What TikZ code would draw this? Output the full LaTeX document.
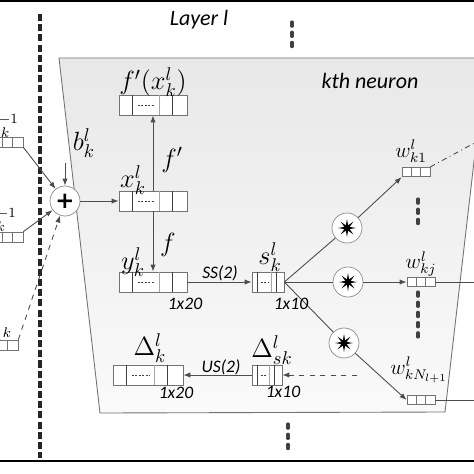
\RequirePackage{fix-cm}
\documentclass[tikz,border=0pt]{standalone}
\usepackage{fontspec}
\newfontfamily\labelfont{Carlito}
\newfontfamily\signfont{DejaVu Sans}
\usetikzlibrary{calc,shapes.geometric,arrows.meta}
\tikzset{
  cellbox/.style={draw=black!55, fill=white, inner sep=0pt, minimum width=1.36cm, minimum height=0.4cm},
  wbox/.style={draw=black!55, fill=white, inner sep=0pt, minimum width=0.56cm, minimum height=0.19cm},
  opnode/.style={circle, draw=black!45, fill=white, minimum size=0.6cm, inner sep=0pt},
  starglyph/.style={star, star points=8, star point ratio=3.2, fill=black, minimum size=0.36cm, inner sep=0pt},
  flow/.style={draw=black!70, line width=0.5pt, -{Latex[length=4pt,width=3pt]}},
  link/.style={draw=black!70, line width=0.5pt},
  sizetag/.style={font=\labelfont\itshape\fontsize{10}{12}\selectfont},
  headtag/.style={font=\labelfont\itshape\fontsize{12.5}{14}\selectfont},
  mathlabel/.style={font=\fontsize{15}{18}\selectfont},
  wlabel/.style={font=\fontsize{12}{14}\selectfont},
  layersep/.style={draw=black!85, line width=1.8pt, dash pattern=on 4pt off 1.8pt},
  dotcol/.style={draw=black!75, line width=1.8pt, line cap=round, dash pattern=on 2.4pt off 3.4pt},
}
\begin{document}
\begin{tikzpicture}[x=0.02cm, y=-0.02cm]
  \useasboundingbox (0,0) rectangle (474,474);
  \clip (0,0) rectangle (474,474);
  \fill[white] (0,0) rectangle (474,474);
  \shade[top color=black!9, bottom color=black!2, draw=black!55, line width=0.5pt]
    (59,58) -- (486,58) -- (445,412) -- (100,413) -- cycle;
  \draw[black, line width=1.3pt] (0,1) -- (474,1);
  \draw[black, line width=1.3pt] (0,461) -- (474,461);
  \draw[layersep] (40,14) -- (40,458);
  \draw[dotcol] (292,22) -- (292,50);
  \draw[dotcol] (288,424) -- (288,452);
  \draw[dotcol] (418,199) -- (418,228);
  \draw[dotcol] (418,292) -- (418,342);

  \node[headtag] (title) at (199,20) {Layer l};
  \node[headtag] (neuron) at (370,81) {kth neuron};

  \node[cellbox] (fx) at (153,105) {};
  \node[cellbox] (xk) at (153,201) {};
  \node[cellbox] (yk) at (153,282) {};
  \node[cellbox, minimum width=1.4cm] (dk) at (148,375) {};
  \node[cellbox, minimum width=0.64cm] (sk) at (268,282) {};
  \node[cellbox, minimum width=0.6cm] (dsk) at (267,375) {};
  \foreach \b/\p/\q/\r/\s/\t in {fx/14/41/54/19/36, xk/14/41/54/19/36, yk/14/41/54/19/36,
      dk/14/42/55/19/37, sk/6/20/25/9/17, dsk/6/18/23/9/15} {
    \draw[black!75] ($(\b.north west)+(\p,0)$) -- ($(\b.south west)+(\p,0)$);
    \draw[black!35] ($(\b.north west)+(\q,0)$) -- ($(\b.south west)+(\q,0)$);
    \draw[black!75] ($(\b.north west)+(\r,0)$) -- ($(\b.south west)+(\r,0)$);
    \draw[black!75, dash pattern=on 1.2pt off 0.8pt] ($(\b.west)+(\s,0)$) -- ($(\b.west)+(\t,0)$);
  }

  \node[wbox] (w1) at (416,172) {};
  \node[wbox] (wj) at (421,282) {};
  \node[wbox] (wN) at (421,400) {};
  \node[wbox, minimum width=0.6cm, minimum height=0.2cm] (a1) at (8,142) {};
  \node[wbox, minimum width=0.6cm, minimum height=0.2cm] (ai) at (8,237) {};
  \node[wbox, minimum width=0.6cm, minimum height=0.2cm] (aN) at (3,345) {};
  \foreach \b/\w in {w1/28, wj/28, wN/28, a1/30, ai/30, aN/30} {
    \draw[black!55] ($(\b.north west)+({\w/3},0)$) -- ($(\b.south west)+({\w/3},0)$);
    \draw[black!55] ($(\b.north west)+({2*\w/3},0)$) -- ($(\b.south west)+({2*\w/3},0)$);
  }

  \node[opnode, font=\signfont\bfseries\fontsize{13}{13}\selectfont] (plus) at (65,201) {+};
  \node[opnode] (mul1) at (347,228) {};
  \node[opnode] (mul2) at (348,282) {};
  \node[opnode] (mul3) at (344,343) {};
  \node[starglyph] (sg1) at (mul1) {};
  \node[starglyph] (sg2) at (mul2) {};
  \node[starglyph] (sg3) at (mul3) {};

  \coordinate (bias) at (65,163);
  \coordinate (wout1) at (480,140);
  \coordinate (woutj) at (480,282);
  \coordinate (woutN) at (480,400);
  \coordinate (dback) at (357,375);

  \draw[flow] (a1.south east) -- (plus);
  \draw[flow] (ai.north east) -- (plus);
  \draw[flow, dashed] (aN.north east) -- (plus);
  \draw[flow] (bias) -- (plus);
  \draw[flow] (plus) -- (xk);
  \draw[flow] (xk) -- (fx);
  \draw[flow] (xk) -- (yk);
  \draw[flow] (yk) -- (sk);
  \draw[link] (sk.east) -- (mul1);
  \draw[link] (sk.east) -- (mul2);
  \draw[link] (sk.east) -- (mul3);
  \draw[flow] (mul1) -- (w1.south west);
  \draw[flow] (mul2) -- (wj);
  \draw[flow] (mul3) -- (wN.west);
  \draw[link, dash dot] (w1.north east) -- (wout1);
  \draw[link] (wj) -- (woutj);
  \draw[link] (wN) -- (woutN);
  \draw[flow] (dsk) -- (dk);
  \draw[flow, dashed] (dback) -- (dsk);

  \node[mathlabel] (fxlab) at (153,82) {$f'(x^l_k)$};
  \node[mathlabel] (fplab) at (172,160) {$f'$};
  \node[mathlabel] (xlab) at (133,180) {$x^l_k$};
  \node[mathlabel] (flab) at (168,245) {$f$};
  \node[mathlabel] (ylab) at (133,262) {$y^l_k$};
  \node[mathlabel] (slab) at (270,257) {$s^l_k$};
  \node[mathlabel] (dlab) at (150,348) {$\Delta^l_k$};
  \node[mathlabel] (dslab) at (272,350) {$\Delta^l_{sk}$};
  \node[mathlabel] (blab) at (84,143) {$b^l_k$};
  \node[wlabel] (w1lab) at (411,151) {$w^l_{k1}$};
  \node[wlabel] (wjlab) at (421,264) {$w^l_{kj}$};
  \node[wlabel] (wNlab) at (419,370) {$w^l_{kN_{l+1}}$};
  \node[wlabel, anchor=east] (a1lab) at (25,126) {$w^{l-1}_{1k}$};
  \node[wlabel, anchor=east] (ailab) at (23,220) {$w^{l-1}_{ik}$};
  \node[wlabel, anchor=east] (aNlab) at (18,328) {$w^{l-1}_{N_{l-1}k}$};

  \node[sizetag] (ss) at (220,273) {SS(2)};
  \node[sizetag] (us) at (221,367) {US(2)};
  \node[sizetag] (ysz) at (185,304) {1x20};
  \node[sizetag] (ssz) at (291,304) {1x10};
  \node[sizetag] (dsz) at (176,393) {1x20};
  \node[sizetag] (dssz) at (283,392) {1x10};
\end{tikzpicture}
\end{document}
